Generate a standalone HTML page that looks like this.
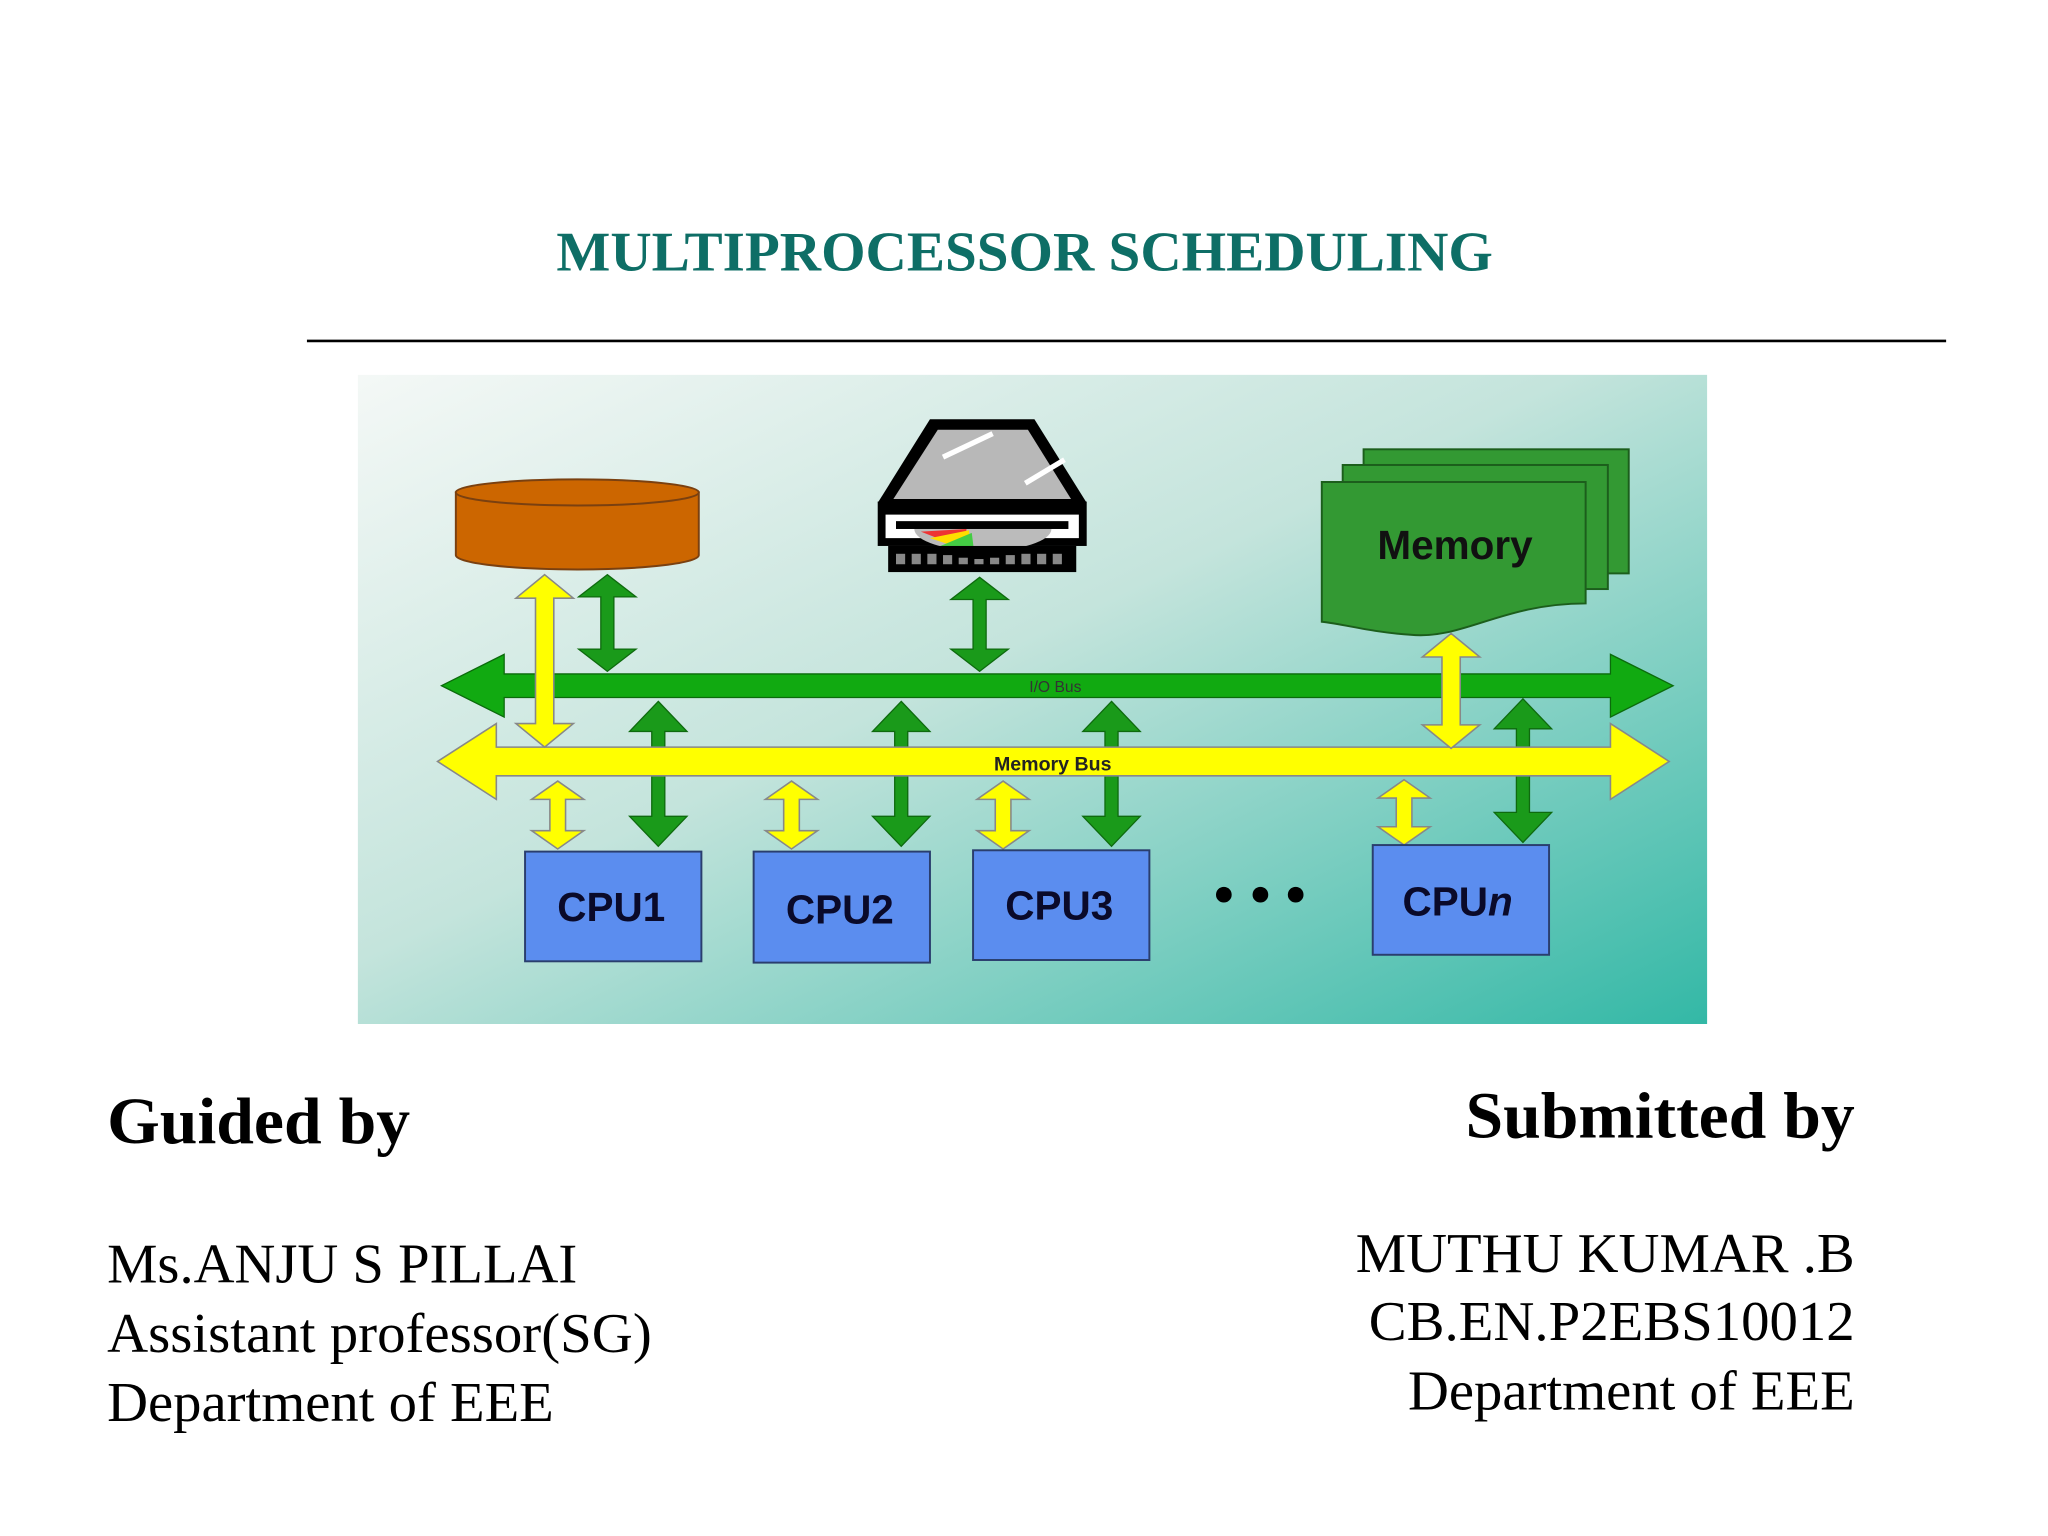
<!DOCTYPE html>
<html><head><meta charset="utf-8"><style>
html,body{margin:0;padding:0;background:#fff;}
svg{display:block;}
</style></head><body>
<svg width="2048" height="1536" viewBox="0 0 1568 1176" preserveAspectRatio="none" xmlns="http://www.w3.org/2000/svg">
<defs>
<linearGradient id="bg" x1="0" y1="0" x2="1" y2="1">
<stop offset="0" stop-color="#f4f8f6"/>
<stop offset="0.45" stop-color="#c4e4dc"/>
<stop offset="1" stop-color="#33b8a6"/>
</linearGradient>
</defs>
<rect width="1568" height="1176" fill="#fff"/>
<text x="426" y="207" textLength="717" lengthAdjust="spacingAndGlyphs" font-family="Liberation Serif, serif" font-weight="bold" font-size="43" fill="#0e6e66">MULTIPROCESSOR SCHEDULING</text>
<line x1="235" y1="261" x2="1490" y2="261" stroke="#000" stroke-width="2"/>
<rect x="274" y="287" width="1033" height="497" fill="url(#bg)"/>

<!-- disk -->
<path d="M349,377 V425 A93,11 0 0 0 535,425 V377 Z" fill="#cc6600" stroke="#7a4010" stroke-width="1.5"/>
<ellipse cx="442" cy="377" rx="93" ry="10" fill="#cc6600" stroke="#7a4010" stroke-width="1.5"/>

<!-- CD drive -->
<path d="M712,321 L792,321 L832,385 L672,385 Z" fill="#000"/>
<path d="M718,329 L787,329 L820,382 L684,382 Z" fill="#b8b8b8"/>
<line x1="722" y1="350" x2="760" y2="332" stroke="#fff" stroke-width="4"/>
<line x1="785" y1="370" x2="815" y2="352" stroke="#fff" stroke-width="4"/>
<rect x="672" y="384" width="160" height="34" fill="#000"/>
<rect x="678" y="394" width="148" height="18" fill="#fff"/>
<rect x="686" y="399" width="132" height="6" fill="#000"/>
<path d="M700,405 A50,16 0 0 0 805,405 Z" fill="#bbb"/>
<path d="M705,407 L740,405 L738,420 Z" fill="#e33"/>
<path d="M712,412 L742,406 L742,422 Z" fill="#fd0"/>
<path d="M720,418 L744,408 L746,424 Z" fill="#4c4"/>
<rect x="680" y="418" width="144" height="20" fill="#000"/>
<g fill="#888">
<rect x="686" y="424" width="7" height="8"/><rect x="698" y="424" width="7" height="8"/><rect x="710" y="424" width="7" height="8"/><rect x="722" y="425" width="7" height="7"/><rect x="734" y="427" width="7" height="5"/><rect x="746" y="428" width="7" height="4"/><rect x="758" y="427" width="7" height="5"/><rect x="770" y="425" width="7" height="7"/><rect x="782" y="424" width="7" height="8"/><rect x="794" y="424" width="7" height="8"/><rect x="806" y="424" width="7" height="8"/>
</g>

<!-- memory pages -->
<rect x="1044" y="344" width="203" height="95" fill="#339933" stroke="#1c5e1c" stroke-width="1.5"/>
<rect x="1028" y="356" width="203" height="95" fill="#339933" stroke="#1c5e1c" stroke-width="1.5"/>
<path d="M1012,369 H1214 V462 C1150,462 1120,490 1080,486 C1050,484 1030,478 1012,476 Z" fill="#339933" stroke="#1c5e1c" stroke-width="1.5"/>
<text x="1114" y="428" text-anchor="middle" font-family="Liberation Sans, sans-serif" font-weight="bold" font-size="31" fill="#111">Memory</text>

<g fill="#1a9a1a" stroke="#0e6a0e" stroke-width="1">
<polygon points="504,537 526,560 509,560 509,625 526,625 504,648 482,625 499,625 499,560 482,560"/>
<polygon points="690,537 712,560 695,560 695,625 712,625 690,648 668,625 685,625 685,560 668,560"/>
<polygon points="851,537 873,560 856,560 856,625 873,625 851,648 829,625 846,625 846,560 829,560"/>
<polygon points="1166,535 1188,558 1171,558 1171,622 1188,622 1166,645 1144,622 1161,622 1161,558 1144,558"/>
</g>

<polygon points="338,525 386,501 386,516 1233,516 1233,501 1281,525 1233,549 1233,534 386,534 386,549" fill="#11aa11" stroke="#0b6b0b" stroke-width="1"/>
<text x="808" y="530" text-anchor="middle" font-family="Liberation Sans, sans-serif" font-size="12" fill="#333">I/O Bus</text>

<g fill="#1a9a1a" stroke="#0e6a0e" stroke-width="1">
<polygon points="465,440 487,457 470,457 470,497 487,497 465,514 443,497 460,497 460,457 443,457"/>
<polygon points="750,442 772,459 755,459 755,497 772,497 750,514 728,497 745,497 745,459 728,459"/>
</g>

<polygon points="335,583 380,554 380,572 1233,572 1233,554 1278,583 1233,612 1233,594 380,594 380,612" fill="#ffff00" stroke="#888" stroke-width="1.2"/>
<text x="806" y="590" text-anchor="middle" font-family="Liberation Sans, sans-serif" font-weight="bold" font-size="15" fill="#222">Memory Bus</text>

<g fill="#ffff00" stroke="#888" stroke-width="1.2">
<polygon points="417,440 439,458 424,458 424,554 439,554 417,572 395,554 410,554 410,458 395,458"/>
<polygon points="1111,485 1133,503 1118,503 1118,555 1133,555 1111,573 1089,555 1104,555 1104,503 1089,503"/>
<polygon points="427,598 447,612 433,612 433,636 447,636 427,650 407,636 421,636 421,612 407,612"/>
<polygon points="606,598 626,612 612,612 612,636 626,636 606,650 586,636 600,636 600,612 586,612"/>
<polygon points="768,598 788,612 774,612 774,636 788,636 768,650 748,636 762,636 762,612 748,612"/>
<polygon points="1075,597 1095,611 1081,611 1081,633 1095,633 1075,647 1055,633 1069,633 1069,611 1055,611"/>
</g>

<g fill="#5b8def" stroke="#2a3e6e" stroke-width="1.5">
<rect x="402" y="652" width="135" height="84"/>
<rect x="577" y="652" width="135" height="85"/>
<rect x="745" y="651" width="135" height="84"/>
<rect x="1051" y="647" width="135" height="84"/>
</g>
<g font-family="Liberation Sans, sans-serif" font-weight="bold" font-size="31" fill="#0a0a2a" text-anchor="middle">
<text x="468" y="705">CPU1</text>
<text x="643" y="707">CPU2</text>
<text x="811" y="704">CPU3</text>
<text x="1116" y="701">CPU<tspan font-style="italic">n</tspan></text>
</g>
<circle cx="937" cy="685" r="6" fill="#000"/>
<circle cx="965" cy="685" r="6" fill="#000"/>
<circle cx="992" cy="685" r="6" fill="#000"/>

<g font-family="Liberation Serif, serif" fill="#000" lengthAdjust="spacingAndGlyphs">
<text x="82" y="875" font-weight="bold" font-size="50" textLength="232" lengthAdjust="spacingAndGlyphs">Guided by</text>
<text x="1122" y="871" font-weight="bold" font-size="50" textLength="298" lengthAdjust="spacingAndGlyphs">Submitted by</text>
<text x="82" y="982" font-size="43" textLength="360" lengthAdjust="spacingAndGlyphs">Ms.ANJU S PILLAI</text>
<text x="82" y="1035" font-size="43" textLength="417" lengthAdjust="spacingAndGlyphs">Assistant professor(SG)</text>
<text x="82" y="1088" font-size="43" textLength="342" lengthAdjust="spacingAndGlyphs">Department of EEE</text>
<text x="1038" y="974" font-size="43" textLength="382" lengthAdjust="spacingAndGlyphs">MUTHU KUMAR .B</text>
<text x="1048" y="1026" font-size="43" textLength="372" lengthAdjust="spacingAndGlyphs">CB.EN.P2EBS10012</text>
<text x="1078" y="1079" font-size="43" textLength="342" lengthAdjust="spacingAndGlyphs">Department of EEE</text>
</g>
</svg>
</body></html>
